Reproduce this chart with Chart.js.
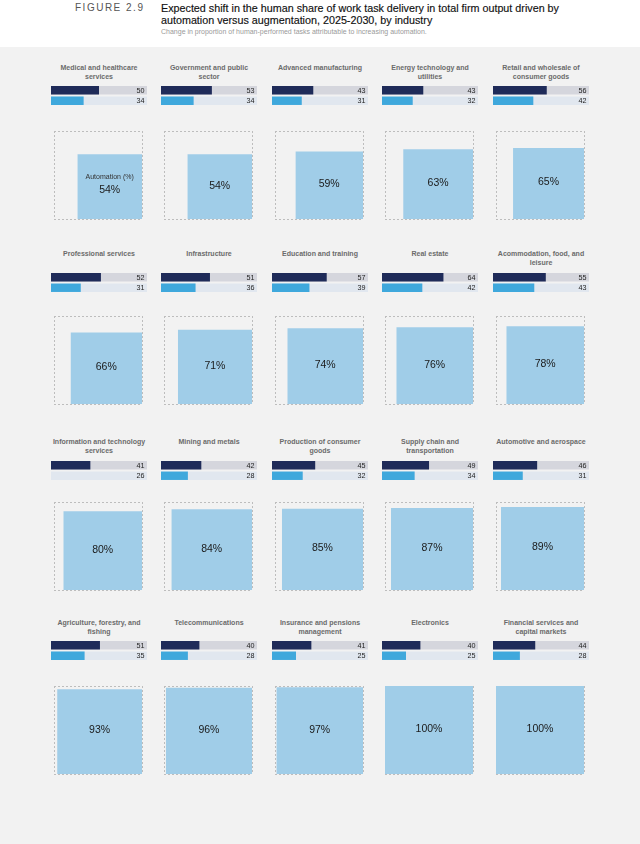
<!DOCTYPE html>
<html>
<head>
<meta charset="utf-8">
<title>Figure 2.9</title>
<script src="https://cdn.jsdelivr.net/npm/chart.js"></script>
<style>
  body { margin: 0; font-family: "Liberation Sans", Arial, sans-serif; background: #f2f2f2; }
  #page { position: relative; width: 640px; height: 844px; overflow: hidden; }
  .header { position: absolute; left: 0; top: 0; width: 640px; height: 47px; background: #ffffff; }
  .fig { position: absolute; left: 75px; top: 2px; font-size: 10px; line-height: 12px; letter-spacing: 1.5px; color: #555555; }
  .title { position: absolute; left: 161px; top: 3px; width: 470px; font-size: 10.75px; line-height: 11.6px;
           color: #111111; -webkit-text-stroke: 0.15px #111111; }
  .sub { position: absolute; left: 161px; top: 27.5px; font-size: 7px; line-height: 8px; color: #9a9a9a; }
  .ptitle { position: absolute; width: 120px; text-align: center; font-size: 7px; line-height: 8.7px;
            font-weight: bold; color: #6b6b6b; white-space: pre-line; }
  canvas { position: absolute; }
</style>
</head>
<body>
<div id="page">
  <div class="header">
    <div class="fig">FIGURE 2.9</div>
    <div class="title">Expected shift in the human share of work task delivery in total firm output driven by<br>automation versus augmentation, 2025-2030, by industry</div>
    <div class="sub">Change in proportion of human-performed tasks attributable to increasing automation.</div>
  </div>
</div>

<script>
  // data
  const industries = [
    "Medical and healthcare\nservices", "Government and public\nsector", "Advanced manufacturing",
    "Energy technology and\nutilities", "Retail and wholesale of\nconsumer goods",
    "Professional services", "Infrastructure", "Education and training", "Real estate",
    "Acommodation, food, and\nleisure",
    "Information and technology\nservices", "Mining and metals", "Production of consumer\ngoods",
    "Supply chain and\ntransportation", "Automotive and aerospace",
    "Agriculture, forestry, and\nfishing", "Telecommunications", "Insurance and pensions\nmanagement",
    "Electronics", "Financial services and\ncapital markets"
  ];
  const darkValues  = [50, 53, 43, 43, 56, 52, 51, 57, 64, 55, 41, 42, 45, 49, 46, 51, 40, 41, 40, 44];
  const lightValues = [34, 34, 31, 32, 42, 31, 36, 39, 42, 43, 26, 28, 32, 34, 31, 35, 28, 25, 25, 28];
  const automationPct = [54, 54, 59, 63, 65, 66, 71, 74, 76, 78, 80, 84, 85, 87, 89, 93, 96, 97, 100, 100];
  const trackMax = 100;
  const noLightBar = [10]; // the light bar is not drawn for this panel in the original

  const DARK = "#1f2b59", BRIGHT = "#3fa8dc";
  const TRACK_DARK = "#d5d6dd", TRACK_LIGHT = "#e1e7ef";
  const SQUARE = "#a0cde8", DASH = "#bdbdbd";
  const FONT = '"Liberation Sans", Arial, sans-serif';

  Chart.defaults.font.family = FONT;

  // layout of the 5 x 4 grid
  const colX = [51, 161, 272, 382, 493];
  const rowTitleY = [68.3, 254.5, 442.7, 623.5];
  const rowBarY = [85, 272, 460, 640];
  const rowBoxY = [130, 315, 501, 685];

  const page = document.getElementById("page");

  function addCanvas(left, top, w, h) {
    const c = document.createElement("canvas");
    c.width = w; c.height = h;
    c.style.left = left + "px"; c.style.top = top + "px";
    c.style.width = w + "px"; c.style.height = h + "px";
    page.appendChild(c);
    return c;
  }

  industries.forEach((name, i) => {
    const col = i % 5, row = Math.floor(i / 5);
    const x0 = colX[col];

    const t = document.createElement("div");
    t.className = "ptitle";
    t.textContent = name;
    t.style.left = (x0 + 48 - 60) + "px";
    t.style.top = (rowTitleY[row] - 4.35) + "px";
    page.appendChild(t);

    // two bars on a 0-100 track
    const barVals = [darkValues[i], lightValues[i]];
    new Chart(addCanvas(x0, rowBarY[row], 96, 21), {
      type: "bar",
      data: {
        labels: ["dark", "light"],
        datasets: [
          {
            data: barVals,
            backgroundColor: [DARK, noLightBar.includes(i) ? "rgba(0,0,0,0)" : BRIGHT],
            grouped: false, barPercentage: 0.8, categoryPercentage: 1, order: 0
          },
          {
            data: [trackMax, trackMax],
            backgroundColor: [TRACK_DARK, TRACK_LIGHT],
            grouped: false, barPercentage: 0.8, categoryPercentage: 1, order: 1
          }
        ]
      },
      options: {
        indexAxis: "y",
        responsive: false,
        animation: false,
        layout: { padding: 0 },
        plugins: { legend: { display: false }, tooltip: { enabled: false } },
        scales: {
          x: { display: false, min: 0, max: trackMax },
          y: { display: false }
        }
      },
      plugins: [{
        id: "valueLabels",
        afterDatasetsDraw(chart) {
          const ctx = chart.ctx;
          ctx.save();
          ctx.font = "7.2px " + FONT;
          ctx.fillStyle = "#222222";
          ctx.textAlign = "right";
          ctx.textBaseline = "middle";
          chart.getDatasetMeta(0).data.forEach((bar, j) => {
            ctx.fillText(String(barVals[j]), chart.chartArea.right - 2.5, bar.y + 0.5);
          });
          ctx.restore();
        }
      }]
    });

    // square whose area is the automation share of the dashed 100% box
    const side = Math.sqrt(automationPct[i] / 100);
    new Chart(addCanvas(x0 + 2, rowBoxY[row], 90, 90), {
      type: "scatter",
      data: {
        datasets: [{
          data: [{ x: 1 - side, y: side }, { x: 1, y: side }],
          showLine: true,
          fill: "origin",
          backgroundColor: SQUARE,
          borderColor: "rgba(0,0,0,0)",
          borderWidth: 0,
          pointRadius: 0
        }]
      },
      options: {
        responsive: false,
        animation: false,
        layout: { padding: 1 },
        plugins: { legend: { display: false }, tooltip: { enabled: false } },
        scales: {
          x: {
            type: "linear", min: 0, max: 1,
            ticks: { display: false, stepSize: 1 },
            grid: { color: DASH, lineWidth: 1, drawTicks: false },
            border: { display: false, dash: [2, 2] }
          },
          y: {
            type: "linear", min: 0, max: 1,
            ticks: { display: false, stepSize: 1 },
            grid: { color: DASH, lineWidth: 1, drawTicks: false },
            border: { display: false, dash: [2, 2] }
          }
        }
      },
      plugins: [{
        id: "squareLabel",
        afterDatasetsDraw(chart) {
          const { ctx, scales } = chart;
          const cx = scales.x.getPixelForValue(1 - side / 2);
          const cy = scales.y.getPixelForValue(side / 2);
          ctx.save();
          ctx.fillStyle = "#1a1a1a";
          ctx.textAlign = "center";
          ctx.textBaseline = "middle";
          if (i === 0) {
            ctx.font = "7px " + FONT;
            ctx.fillStyle = "#333333";
            ctx.fillText("Automation (%)", cx, cy - 10);
            ctx.font = "10.5px " + FONT;
            ctx.fillStyle = "#1a1a1a";
            ctx.fillText(automationPct[i] + "%", cx, cy + 3);
          } else {
            ctx.font = "10.5px " + FONT;
            ctx.fillText(automationPct[i] + "%", cx, cy - 1);
          }
          ctx.restore();
        }
      }]
    });
  });
</script>
</body>
</html>
